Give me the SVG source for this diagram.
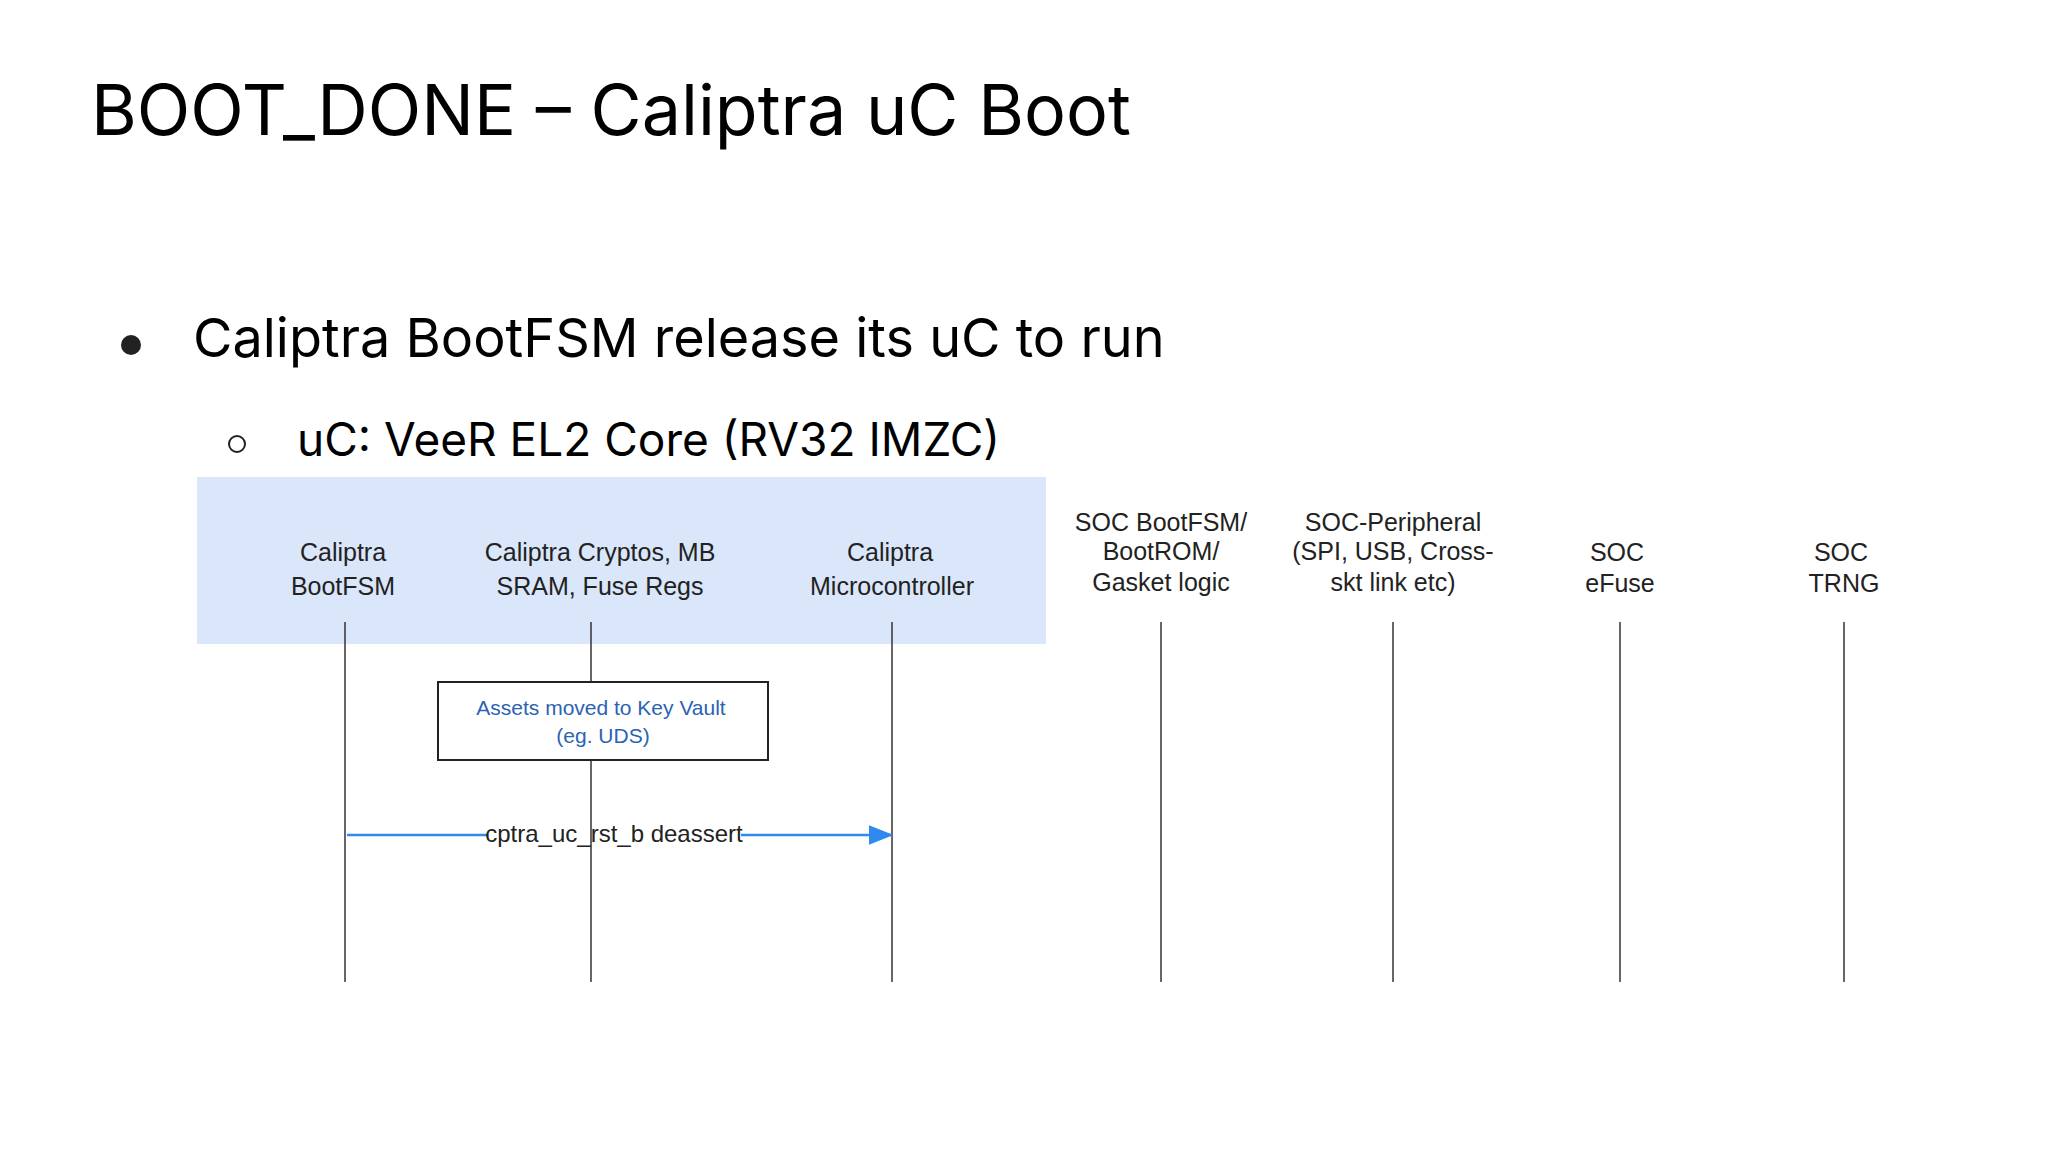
<svg xmlns="http://www.w3.org/2000/svg" width="2048" height="1152" viewBox="0 0 2048 1152">
<style>
.h{font-family:Inter,"Open Sans",sans-serif;fill:#000}
.l{font-family:"Liberation Sans",Arial,sans-serif;font-size:25px;fill:#222;text-anchor:middle}
.ll{stroke:#333;stroke-width:1.5}
</style>
<defs><marker id="a" markerWidth="10" markerHeight="8" refX="9" refY="4" orient="auto"><path d="M0,0L10,4L0,8z" fill="#2f8af0"/></marker></defs>
<rect width="2048" height="1152" fill="#fff"/>
<text class="h" x="91" y="135" font-size="70">BOOT_DONE – Caliptra uC Boot</text>
<circle cx="131" cy="345" r="10" fill="#222"/>
<text class="h" x="193" y="357" font-size="54" fill="#222">Caliptra BootFSM release its uC to run</text>
<circle cx="237" cy="444" r="8" fill="none" stroke="#222" stroke-width="2"/>
<text class="h" x="297" y="456" font-size="46" fill="#222">uC: VeeR EL2 Core (RV32 IMZC)</text>
<rect x="197" y="477" width="849" height="167" fill="#dae6fa"/>
<g id="n1"><text class="l" x="343" y="561">Caliptra</text><text class="l" x="343" y="595">BootFSM</text></g>
<g id="n2"><text class="l" x="600" y="561">Caliptra Cryptos, MB</text><text class="l" x="600" y="595">SRAM, Fuse Regs</text></g>
<g id="n3"><text class="l" x="890" y="561">Caliptra</text><text class="l" x="892" y="595">Microcontroller</text></g>
<g id="n4"><text class="l" x="1161" y="531">SOC BootFSM/</text><text class="l" x="1161" y="560">BootROM/</text><text class="l" x="1161" y="591">Gasket logic</text></g>
<g id="n5"><text class="l" x="1393" y="531">SOC-Peripheral</text><text class="l" x="1393" y="560">(SPI, USB, Cross-</text><text class="l" x="1393" y="591">skt link etc)</text></g>
<g id="n6"><text class="l" x="1617" y="561">SOC</text><text class="l" x="1620" y="592">eFuse</text></g>
<g id="n7"><text class="l" x="1841" y="561">SOC</text><text class="l" x="1844" y="592">TRNG</text></g>
<g id="connectors">
<line class="ll" x1="345" y1="622" x2="345" y2="982"/>
<line class="ll" x1="591" y1="622" x2="591" y2="982"/>
<line class="ll" x1="892" y1="622" x2="892" y2="982"/>
<line class="ll" x1="1161" y1="622" x2="1161" y2="982"/>
<line class="ll" x1="1393" y1="622" x2="1393" y2="982"/>
<line class="ll" x1="1620" y1="622" x2="1620" y2="982"/>
<line class="ll" x1="1844" y1="622" x2="1844" y2="982"/>
<line x1="347" y1="835" x2="487" y2="835" stroke="#2f8af0" stroke-width="2.5"/>
<line x1="741" y1="835" x2="891" y2="835" stroke="#2f8af0" stroke-width="2.5" marker-end="url(#a)"/>
<text x="614" y="842" font-family="Liberation Sans,Arial,sans-serif" font-size="24" fill="#222" text-anchor="middle">cptra_uc_rst_b deassert</text>
</g>
<g id="note"><rect x="438" y="682" width="330" height="78" fill="#fff" stroke="#222" stroke-width="2"/>
<text x="601" y="715" font-family="Liberation Sans,Arial,sans-serif" font-size="21" fill="#2b63b4" text-anchor="middle">Assets moved to Key Vault</text>
<text x="603" y="743" font-family="Liberation Sans,Arial,sans-serif" font-size="21" fill="#2b63b4" text-anchor="middle">(eg. UDS)</text></g>
</svg>
